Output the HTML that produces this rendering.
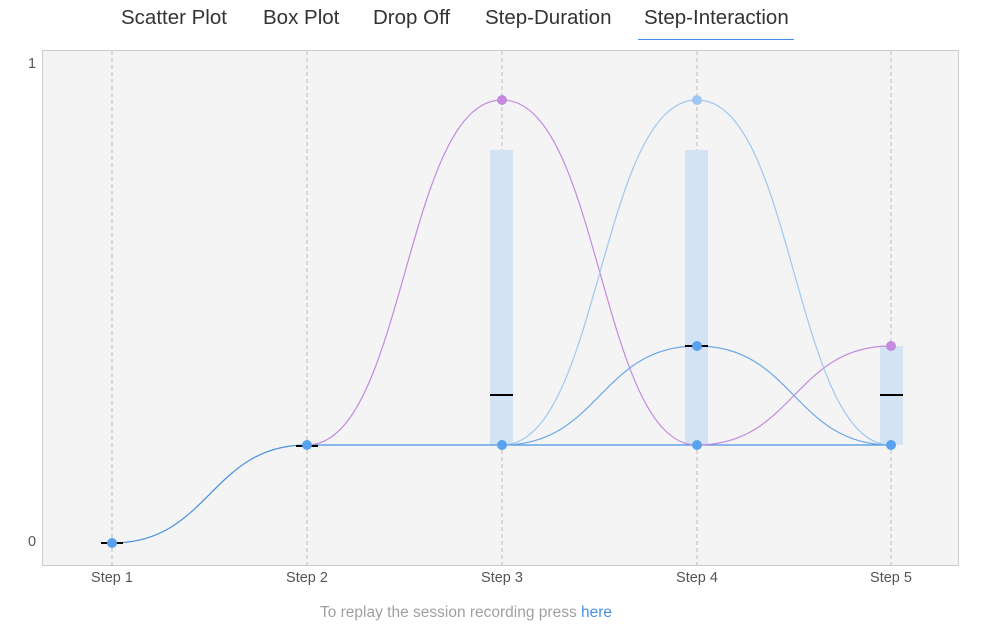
<!DOCTYPE html>
<html><head><meta charset="utf-8"><style>
body{margin:0;width:1000px;height:635px;background:#fff;font-family:"Liberation Sans",sans-serif;overflow:hidden;position:relative}
.tab{position:absolute;top:6px;font-size:20.5px;color:#333}
</style></head><body>
<div class="tab" style="left:121px">Scatter Plot</div>
<div class="tab" style="left:263px">Box Plot</div>
<div class="tab" style="left:373px">Drop Off</div>
<div class="tab" style="left:485px">Step-Duration</div>
<div class="tab" style="left:644px">Step-Interaction</div>
<div style="position:absolute;left:638px;top:39px;width:156px;height:1px;background:#3d8fe8"></div>
<svg width="1000" height="635" style="position:absolute;left:0;top:0" font-family="Liberation Sans, sans-serif">
<rect x="42.5" y="50.5" width="916" height="515" fill="#f4f4f4" stroke="#ccc"/>
<g stroke="#bbb" stroke-dasharray="4,3">
<line x1="112" y1="51" x2="112" y2="565"/><line x1="307" y1="51" x2="307" y2="565"/><line x1="502" y1="51" x2="502" y2="565"/><line x1="697" y1="51" x2="697" y2="565"/><line x1="891" y1="51" x2="891" y2="565"/>
</g>
<g fill="#d3e3f4">
<rect x="490" y="150" width="23" height="295"/><rect x="685" y="150" width="23" height="295"/><rect x="880" y="346" width="23" height="99"/>
</g>
<g fill="none" stroke-width="1.2">
<path d="M112,543 C210,543 210,445 307,445 L891,445" stroke="#4a90e2"/>
<path d="M307,445 C405,445 405,100 502,100 C600,100 600,445 697,445 C794,445 794,346 891,346" stroke="#c38ae0"/>
<path d="M502,445 C600,445 600,100 697,100 C794,100 794,445 891,445" stroke="#9ec8f2"/>
<path d="M502,445 C600,445 600,346 697,346 C794,346 794,445 891,445" stroke="#6aa8ec"/>
</g>
<g stroke="#000" stroke-width="2">
<line x1="101" y1="543" x2="123" y2="543"/><line x1="296" y1="446" x2="318" y2="446"/><line x1="490" y1="395" x2="513" y2="395"/><line x1="685" y1="346" x2="708" y2="346"/><line x1="880" y1="395" x2="903" y2="395"/>
</g>
<g fill="#5aa2ee">
<circle cx="112" cy="543" r="5"/><circle cx="307" cy="445" r="5"/><circle cx="502" cy="445" r="5"/><circle cx="697" cy="445" r="5"/><circle cx="891" cy="445" r="5"/><circle cx="697" cy="346" r="5"/>
</g>
<circle cx="502" cy="100" r="5" fill="#c38ae0"/><circle cx="891" cy="346" r="5" fill="#c38ae0"/><circle cx="697" cy="100" r="5" fill="#9ec8f2"/>
<g font-size="14.5" fill="#555" text-anchor="middle">
<text x="112" y="582">Step 1</text><text x="307" y="582">Step 2</text><text x="502" y="582">Step 3</text><text x="697" y="582">Step 4</text><text x="891" y="582">Step 5</text>
<text x="32" y="68">1</text><text x="32" y="546">0</text>
</g>
<text x="466" y="617" font-size="15.5" fill="#a0a0a0" text-anchor="middle">To replay the session recording press <tspan fill="#4a90e2">here</tspan></text>
</svg>
</body></html>
